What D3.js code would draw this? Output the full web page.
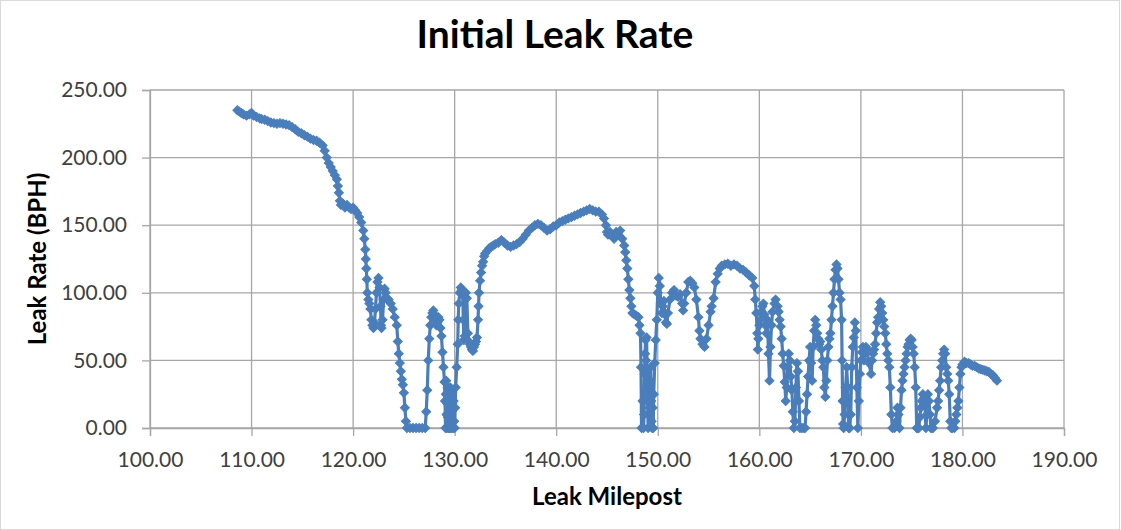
<!DOCTYPE html>
<html>
<head>
<meta charset="utf-8">
<script src="https://cdn.jsdelivr.net/npm/d3@7"></script>
<style>
  body { margin: 0; background: #fff; }
  svg text { font-family: Lato, "Open Sans", sans-serif; }
</style>
</head>
<body>
<div id="chart"></div>
<script>
// chart text
var chartTitle = "Initial Leak Rate";
var xTitle = "Leak Milepost";
var yTitle = "Leak Rate (BPH)";
var xTicks = [100, 110, 120, 130, 140, 150, 160, 170, 180, 190];
var yTicks = [0, 50, 100, 150, 200, 250];

// leak milepost (x)
var milepost = [
  108.6, 108.8, 109.0, 109.2, 109.5, 109.8, 110.0, 110.2, 110.5, 110.8,
  111.0, 111.3, 111.6, 111.9, 112.2, 112.5, 112.8, 113.1, 113.4, 113.7,
  114.0, 114.3, 114.6, 114.9, 115.2, 115.5, 115.8, 116.1, 116.4, 116.7,
  117.0, 117.2, 117.4, 117.6, 117.8, 118.0, 118.2, 118.4, 118.5, 118.6,
  118.7, 118.8, 119.0, 119.2, 119.4, 119.6, 119.8, 120.0, 120.2, 120.4,
  120.6, 120.8, 121.0, 121.1, 121.2, 121.25, 121.3, 121.35, 121.4, 121.5,
  121.6, 121.7, 121.8, 121.9, 122.0, 122.1, 122.2, 122.3, 122.4, 122.5,
  122.6, 122.7, 122.75, 122.8, 122.9, 123.0, 123.1, 123.2, 123.3, 123.5,
  123.7, 123.9, 124.1, 124.3, 124.4, 124.5, 124.6, 124.7, 124.8, 124.9,
  125.0, 125.1, 125.2, 125.3, 125.6, 125.9, 126.2, 126.5, 126.8, 127.1,
  127.2, 127.3, 127.4, 127.5, 127.6, 127.7, 127.8, 127.9, 128.0, 128.1,
  128.2, 128.3, 128.4, 128.5, 128.6, 128.7, 128.8, 128.9, 129.0, 129.05,
  129.1, 129.13, 129.17, 129.2, 129.23, 129.27, 129.3, 129.33, 129.37, 129.4,
  129.43, 129.47, 129.5, 129.53, 129.57, 129.6, 129.63, 129.67, 129.7, 129.73,
  129.77, 129.8, 129.83, 129.87, 129.9, 129.95, 130.0, 130.05, 130.1, 130.2,
  130.3, 130.35, 130.4, 130.5, 130.6, 130.7, 130.8, 130.85, 130.9, 131.0,
  131.1, 131.2, 131.3, 131.4, 131.5, 131.6, 131.7, 131.8, 131.9, 132.0,
  132.1, 132.2, 132.3, 132.35, 132.4, 132.5, 132.6, 132.7, 132.8, 132.9,
  133.0, 133.2, 133.4, 133.6, 133.8, 134.0, 134.3, 134.6, 134.9, 135.2,
  135.5, 135.8, 136.1, 136.4, 136.7, 137.0, 137.3, 137.6, 137.9, 138.2,
  138.5, 138.8, 139.1, 139.4, 139.7, 140.0, 140.3, 140.6, 140.9, 141.2,
  141.5, 141.8, 142.1, 142.4, 142.7, 143.0, 143.3, 143.6, 143.9, 144.2,
  144.5, 144.7, 144.9, 145.0, 145.1, 145.3, 145.5, 145.7, 145.9, 146.1,
  146.3, 146.5, 146.7, 146.8, 146.9, 147.0, 147.1, 147.2, 147.3, 147.4,
  147.5, 147.7, 147.9, 148.1, 148.2, 148.3, 148.35, 148.4, 148.5, 148.6,
  148.65, 148.7, 148.75, 148.8, 148.85, 148.9, 148.95, 149.0, 149.05, 149.1,
  149.15, 149.2, 149.25, 149.3, 149.35, 149.4, 149.45, 149.5, 149.55, 149.6,
  149.7, 149.8, 149.9, 150.0, 150.1, 150.2, 150.3, 150.4, 150.5, 150.6,
  150.7, 150.8, 150.9, 151.0, 151.2, 151.4, 151.6, 151.8, 152.0, 152.2,
  152.4, 152.5, 152.6, 152.8, 153.0, 153.2, 153.4, 153.6, 153.8, 154.0,
  154.1, 154.2, 154.4, 154.6, 154.8, 155.0, 155.2, 155.3, 155.5, 155.7,
  155.9, 156.1, 156.3, 156.6, 156.9, 157.2, 157.5, 157.8, 158.1, 158.4,
  158.7, 159.0, 159.3, 159.5, 159.6, 159.7, 159.8, 159.85, 159.9, 160.0,
  160.1, 160.2, 160.3, 160.4, 160.5, 160.6, 160.7, 160.8, 160.9, 161.0,
  161.1, 161.2, 161.3, 161.5, 161.6, 161.8, 161.9, 162.0, 162.1, 162.2,
  162.3, 162.4, 162.5, 162.6, 162.7, 162.8, 162.9, 163.0, 163.1, 163.2,
  163.3, 163.4, 163.5, 163.6, 163.7, 163.8, 163.9, 164.0, 164.2, 164.4,
  164.5, 164.6, 164.7, 164.8, 164.9, 165.0, 165.1, 165.2, 165.3, 165.4,
  165.5, 165.6, 165.7, 165.8, 165.9, 166.0, 166.1, 166.2, 166.3, 166.4,
  166.5, 166.6, 166.7, 166.8, 166.9, 167.0, 167.1, 167.2, 167.3, 167.4,
  167.5, 167.6, 167.7, 167.8, 167.9, 168.0, 168.1, 168.15, 168.2, 168.25,
  168.3, 168.4, 168.5, 168.6, 168.7, 168.8, 168.9, 169.0, 169.1, 169.2,
  169.3, 169.4, 169.5, 169.6, 169.7, 169.8, 169.9, 170.0, 170.1, 170.2,
  170.3, 170.4, 170.5, 170.6, 170.8, 171.0, 171.1, 171.2, 171.3, 171.4,
  171.5, 171.6, 171.7, 171.8, 171.9, 172.0, 172.1, 172.2, 172.3, 172.4,
  172.5, 172.6, 172.7, 172.8, 172.9, 173.0, 173.1, 173.3, 173.5, 173.6,
  173.7, 173.8, 173.9, 174.0, 174.1, 174.2, 174.3, 174.4, 174.5, 174.6,
  174.7, 174.8, 174.9, 175.0, 175.1, 175.2, 175.3, 175.4, 175.5, 175.6,
  175.7, 175.8, 175.9, 176.0, 176.1, 176.2, 176.3, 176.4, 176.5, 176.6,
  176.7, 176.8, 176.9, 177.0, 177.1, 177.3, 177.5, 177.6, 177.7, 177.8,
  177.9, 178.0, 178.1, 178.2, 178.3, 178.4, 178.5, 178.6, 178.7, 178.8,
  178.9, 179.0, 179.2, 179.3, 179.4, 179.5, 179.6, 179.7, 179.8, 179.9,
  180.0, 180.2, 180.4, 180.6, 180.8, 181.0, 181.2, 181.4, 181.6, 181.8,
  182.0, 182.2, 182.4, 182.6, 182.8, 183.0, 183.2, 183.4
];

// initial leak rate in BPH (y)
var leakRate = [
  235, 234, 233, 232, 231, 232, 233, 231, 230, 229,
  228.5, 228, 227, 226, 225.5, 225, 225.5, 225, 224.5, 224,
  222.5, 221, 219, 218, 216.5, 215.5, 214, 213, 212.5, 211,
  209, 205, 200, 196, 193, 190, 187, 184, 179, 174,
  168, 165, 166, 163, 165, 163, 162, 163, 161, 159,
  156, 152, 146, 140, 132, 125, 118, 110, 100, 95,
  92, 88, 80, 76, 74, 78, 88, 100, 108, 111,
  104, 90, 76, 74, 80, 95, 103, 100, 96, 95,
  92, 88, 82, 76, 64, 55, 48, 42, 36, 32,
  26, 15, 5, 0, 0, 0, 0, 0, 0, 0,
  12, 28, 50, 66, 76, 82, 85, 87, 84, 80,
  76, 78, 82, 80, 74, 68, 56, 45, 34, 20,
  0, 25, 35, 10, 0, 18, 30, 8, 0, 22,
  28, 5, 0, 15, 30, 20, 0, 25, 12, 0,
  18, 28, 5, 0, 20, 5, 0, 15, 30, 45,
  62, 80, 92, 100, 104, 102, 98, 80, 65, 68,
  100, 96, 70, 64, 62, 60, 58, 57, 60, 62,
  64, 67, 80, 90, 100, 109, 115, 120, 123, 127,
  129, 131, 133, 134, 135, 136, 137, 139, 137, 135,
  134, 135, 136, 137.5, 140, 143, 146, 148, 150, 151,
  150, 148, 146, 147, 149, 150, 152, 153, 154, 155,
  156, 157, 158, 159, 160, 161, 162, 161, 160, 160,
  158, 155, 150, 145, 143, 145, 142, 140, 145, 143,
  146, 140, 135, 130, 124, 118, 110, 102, 96, 90,
  85, 84, 83, 82, 76, 70, 45, 0, 20, 0,
  10, 40, 55, 65, 50, 67, 40, 20, 0, 10,
  30, 15, 35, 45, 20, 5, 0, 15, 0, 25,
  48, 65, 80, 100, 111, 105, 92, 85, 90, 94,
  84, 78, 77, 85, 95, 100, 102, 98, 97, 99,
  92, 87, 92, 100, 108, 109, 107, 104, 95, 82,
  72, 66, 62, 60, 66, 76, 86, 90, 96, 108,
  114, 118, 120, 121, 121.5, 120, 121, 120, 118, 117,
  115, 113, 111, 105, 95, 85, 70, 58, 66, 76,
  80, 86, 90, 92, 84, 76, 70, 80, 55, 35,
  60, 76, 86, 92, 95, 90, 86, 80, 75, 66,
  55, 46, 34, 20, 30, 45, 55, 50, 38, 28,
  12, 0, 5, 30, 48, 42, 20, 0, 0, 0,
  0, 12, 25, 38, 50, 60, 48, 35, 60, 72,
  80, 76, 70, 66, 62, 64, 58, 50, 45, 30,
  23, 35, 50, 60, 66, 70, 80, 90, 100, 110,
  117, 121, 118, 110, 100, 95, 80, 50, 20, 3,
  0, 10, 30, 45, 30, 0, 0, 10, 45, 60,
  67, 78, 72, 30, 0, 20, 40, 50, 56, 60,
  50, 55, 60, 58, 48, 40, 50, 55, 58, 62,
  70, 78, 82, 88, 93, 90, 85, 80, 75, 70,
  62, 55, 50, 45, 30, 10, 0, 0, 5, 15,
  10, 0, 15, 28, 35, 40, 45, 50, 55, 60,
  62, 65, 66, 65, 60, 55, 45, 30, 0, 0,
  0, 8, 15, 20, 25, 22, 18, 0, 10, 25,
  20, 10, 0, 0, 0, 5, 15, 20, 28, 35,
  45, 50, 55, 58, 55, 45, 40, 35, 25, 5,
  0, 0, 0, 5, 10, 15, 20, 30, 40, 45,
  47, 49, 48, 48, 47, 46, 46, 45, 44, 43.5,
  43, 42.5, 42, 41.5, 40, 39, 37, 35
];

var width = 1121;
var height = 530;
var plot = { left: 150, right: 1064, top: 90, bottom: 428 };
var lineColor = "#4A7EBB";
var gridColor = "#a6a6a6";
var tickTextColor = "#404040";

var data = milepost.map((m, i) => ({ x: m, y: leakRate[i] }));

var svg = d3.select("#chart")
            .append("svg")
            .attr("width", width)
            .attr("height", height);

// outer chart frame
svg.append("rect")
   .attr("x", 0.5)
   .attr("y", 0.5)
   .attr("width", width - 2)
   .attr("height", height - 1)
   .attr("fill", "#fff")
   .attr("stroke", "#d9d9d9");

var xScale = d3.scaleLinear()
               .domain([100, 190])
               .range([plot.left, plot.right]);

var yScale = d3.scaleLinear()
               .domain([0, 250])
               .range([plot.bottom, plot.top]);

// vertical grid lines
svg.append("g")
   .selectAll("line")
   .data(xTicks)
   .enter()
   .append("line")
   .attr("x1", d => xScale(d))
   .attr("x2", d => xScale(d))
   .attr("y1", plot.top)
   .attr("y2", plot.bottom)
   .attr("stroke", gridColor)
   .attr("stroke-width", 1.3);

// horizontal grid lines
svg.append("g")
   .selectAll("line")
   .data(yTicks)
   .enter()
   .append("line")
   .attr("x1", plot.left)
   .attr("x2", plot.right)
   .attr("y1", d => yScale(d))
   .attr("y2", d => yScale(d))
   .attr("stroke", gridColor)
   .attr("stroke-width", 1.3);

var fmt = d3.format(".2f");

var xAxis = d3.axisBottom(xScale)
              .tickValues(xTicks)
              .tickFormat(fmt)
              .tickSize(8)
              .tickPadding(16);

var yAxis = d3.axisLeft(yScale)
              .tickValues(yTicks)
              .tickFormat(fmt)
              .tickSize(8)
              .tickPadding(15);

var gx = svg.append("g")
            .attr("transform", `translate(0,${plot.bottom})`)
            .call(xAxis);

var gy = svg.append("g")
            .attr("transform", `translate(${plot.left},0)`)
            .call(yAxis);

[gx, gy].forEach(function(g) {
  g.select(".domain").attr("stroke", gridColor).attr("stroke-width", 1.3);
  g.selectAll(".tick line").attr("stroke", gridColor).attr("stroke-width", 1.3);
  g.selectAll(".tick text")
   .attr("fill", tickTextColor)
   .style("font-size", "21px")
   .style("font-family", "Lato, 'Open Sans', sans-serif");
});

// the series line
var line = d3.line()
             .x(d => xScale(d.x))
             .y(d => yScale(d.y));

svg.append("path")
   .datum(data)
   .attr("d", line)
   .attr("fill", "none")
   .attr("stroke", lineColor)
   .attr("stroke-width", 3.2)
   .attr("stroke-linejoin", "round");

// diamond markers (squares turned 45 degrees, like Excel)
var diamond = d3.symbol().type(d3.symbolSquare).size(40);
svg.append("g")
   .selectAll("path")
   .data(data)
   .enter()
   .append("path")
   .attr("d", diamond)
   .attr("transform", d => `translate(${xScale(d.x)},${yScale(d.y)})rotate(45)`)
   .attr("fill", lineColor)
   .attr("stroke", lineColor)
   .attr("stroke-width", 1);

// titles
svg.append("text")
   .attr("x", 555)
   .attr("y", 48)
   .attr("text-anchor", "middle")
   .attr("font-weight", "bold")
   .style("font-size", "39px")
   .attr("fill", "#000")
   .text(chartTitle);

svg.append("text")
   .attr("x", (plot.left + plot.right) / 2)
   .attr("y", 505)
   .attr("text-anchor", "middle")
   .attr("font-weight", "bold")
   .style("font-size", "24px")
   .attr("fill", "#000")
   .text(xTitle);

svg.append("text")
   .attr("transform", `translate(46,${(plot.top + plot.bottom) / 2})rotate(-90)`)
   .attr("text-anchor", "middle")
   .attr("font-weight", "bold")
   .style("font-size", "24px")
   .attr("fill", "#000")
   .text(yTitle);
</script>
</body>
</html>
